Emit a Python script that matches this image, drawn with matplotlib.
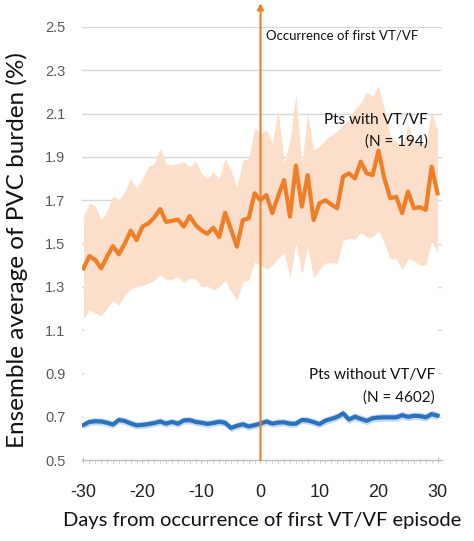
import matplotlib
matplotlib.use("Agg")
import matplotlib.pyplot as plt
from matplotlib.ticker import MultipleLocator

days = list(range(-30, 31))

vt_mean = [
    1.385, 1.442, 1.424, 1.385, 1.44, 1.488, 1.45, 1.50, 1.559, 1.516,
    1.578, 1.593, 1.62, 1.659, 1.60, 1.605, 1.61, 1.578, 1.627, 1.585,
    1.56, 1.545, 1.573, 1.53, 1.642, 1.565, 1.485, 1.608, 1.616, 1.732,
    1.70,
    1.724, 1.64, 1.72, 1.793, 1.624, 1.86, 1.67, 1.816, 1.608, 1.686,
    1.70, 1.68, 1.663, 1.809, 1.824, 1.80, 1.878, 1.824, 1.816, 1.929,
    1.80, 1.709, 1.716, 1.64, 1.74, 1.663, 1.668, 1.655, 1.855, 1.732]

vt_lower = [
    1.154, 1.193, 1.18, 1.165, 1.20, 1.235, 1.216, 1.26, 1.293, 1.30,
    1.305, 1.316, 1.33, 1.355, 1.335, 1.335, 1.347, 1.32, 1.34, 1.335,
    1.30, 1.304, 1.285, 1.30, 1.33, 1.28, 1.235, 1.324, 1.33, 1.416,
    1.40,
    1.38, 1.40, 1.43, 1.46, 1.34, 1.50, 1.36, 1.485, 1.34, 1.38,
    1.41, 1.41, 1.41, 1.515, 1.524, 1.52, 1.55, 1.53, 1.53, 1.56,
    1.50, 1.43, 1.43, 1.38, 1.43, 1.42, 1.40, 1.40, 1.51, 1.46]

vt_upper = [
    1.624, 1.686, 1.673, 1.61, 1.65, 1.72, 1.70, 1.74, 1.80, 1.755,
    1.80, 1.855, 1.87, 1.94, 1.87, 1.862, 1.87, 1.878, 1.855, 1.882,
    1.824, 1.80, 1.832, 1.80, 1.893, 1.84, 1.762, 1.886, 1.893, 2.032,
    2.009,
    2.024, 1.963, 2.12, 1.87, 1.98, 2.19, 1.87, 2.10, 1.93, 1.95,
    1.98, 2.00, 2.02, 2.05, 2.07, 2.12, 2.15, 2.20, 2.18, 2.23,
    2.12, 2.00, 1.97, 1.95, 2.05, 1.97, 1.96, 1.96, 2.11, 2.02]

novt_mean = [
    0.662, 0.676, 0.679, 0.678, 0.672, 0.664, 0.685, 0.680, 0.669, 0.660,
    0.662, 0.666, 0.671, 0.678, 0.668, 0.676, 0.668, 0.683, 0.684, 0.676,
    0.672, 0.667, 0.671, 0.677, 0.672, 0.648, 0.658, 0.665, 0.655, 0.661,
    0.668,
    0.678, 0.668, 0.673, 0.674, 0.668, 0.668, 0.685, 0.683, 0.675, 0.666,
    0.682, 0.690, 0.699, 0.715, 0.687, 0.700, 0.690, 0.681, 0.693, 0.696,
    0.697, 0.697, 0.697, 0.707, 0.699, 0.704, 0.703, 0.697, 0.712, 0.705]

novt_lower = [
    0.645, 0.659, 0.662, 0.661, 0.655, 0.647, 0.668, 0.663, 0.652, 0.643,
    0.645, 0.649, 0.654, 0.661, 0.651, 0.659, 0.651, 0.666, 0.667, 0.659,
    0.655, 0.650, 0.654, 0.660, 0.655, 0.631, 0.641, 0.648, 0.638, 0.644,
    0.651,
    0.661, 0.651, 0.656, 0.657, 0.651, 0.651, 0.668, 0.666, 0.658, 0.649,
    0.664, 0.672, 0.681, 0.696, 0.669, 0.682, 0.672, 0.663, 0.675, 0.678,
    0.679, 0.679, 0.679, 0.689, 0.681, 0.686, 0.685, 0.679, 0.694, 0.687]

novt_upper = [
    0.679, 0.693, 0.696, 0.695, 0.689, 0.681, 0.702, 0.697, 0.686, 0.677,
    0.679, 0.683, 0.688, 0.695, 0.685, 0.693, 0.685, 0.700, 0.701, 0.693,
    0.689, 0.684, 0.688, 0.694, 0.689, 0.665, 0.675, 0.682, 0.672, 0.678,
    0.685,
    0.695, 0.685, 0.690, 0.691, 0.685, 0.685, 0.702, 0.700, 0.692, 0.683,
    0.700, 0.708, 0.717, 0.734, 0.705, 0.718, 0.708, 0.699, 0.711, 0.714,
    0.715, 0.715, 0.715, 0.725, 0.717, 0.722, 0.721, 0.715, 0.730, 0.723]

y_ticks = [0.5, 0.7, 0.9, 1.1, 1.3, 1.5, 1.7, 1.9, 2.1, 2.3, 2.5]
x_ticks = [-30, -20, -10, 0, 10, 20, 30]

ORANGE = "#F07E26"
ORANGE_BAND = "#FCDFCB"
BLUE = "#2A72BE"
BLUE_BAND = "#C9D9EF"
GRID = "#D9D9D9"

plt.rcParams['font.family'] = ['Lato', 'DejaVu Sans']

fig = plt.figure(figsize=(4.74, 5.41), dpi=100)
ax = fig.add_axes([0.173, 0.1497, 0.7595, 0.8004])

ax.set_xlim(-30.25, 30.76)
ax.set_ylim(0.5, 2.5)
ax.set_yticks(y_ticks)
ax.set_yticklabels([f"{v:.1f}" for v in y_ticks], fontsize=10.5, color="#595959",
                   family=['Liberation Sans'])
ax.set_xticks(x_ticks)
ax.set_xticklabels([str(v) for v in x_ticks], fontsize=13, color="#222222",
                   family=['Liberation Sans'])
ax.xaxis.set_minor_locator(MultipleLocator(1))
ax.tick_params(axis='y', length=0, pad=12)
ax.tick_params(axis='x', which='major', direction='inout', length=5, color="#BFBFBF", pad=15)
ax.tick_params(axis='x', which='minor', direction='inout', length=5, color="#BFBFBF")

ax.grid(axis='y', color=GRID, linewidth=1.0, zorder=0)
ax.set_axisbelow(True)
for s in ['top', 'right', 'left']:
    ax.spines[s].set_visible(False)
ax.spines['bottom'].set_color("#BFBFBF")
ax.spines['bottom'].set_linewidth(1.0)

# white area below lower bound (hides gridlines, Excel stacked area style)
ax.fill_between(days, 0.5, vt_lower, color='white', linewidth=0, zorder=1)
ax.fill_between(days, vt_lower, vt_upper, color=ORANGE_BAND, linewidth=0, zorder=2)
ax.fill_between(days, novt_lower, novt_upper, color=BLUE_BAND, linewidth=0, zorder=3)
ax.plot(days, vt_mean, color=ORANGE, linewidth=3.0, zorder=4, solid_joinstyle='round')
ax.plot(days, novt_mean, color=BLUE, linewidth=3.0, zorder=4, solid_joinstyle='round')

# event arrow
ax.annotate("", xy=(0, 2.61), xytext=(0, 0.5), xycoords='data',
            arrowprops=dict(arrowstyle="-|>", color=ORANGE, lw=1.5,
                            mutation_scale=9, shrinkA=0, shrinkB=0),
            annotation_clip=False, zorder=5)

ax.text(1.0, 2.46, "Occurrence of first VT/VF", fontsize=9.5, color="#111111",
        ha='left', va='center', zorder=6)
ax.text(28.3, 2.07, "Pts with VT/VF", fontsize=11, color="#111111",
        ha='right', va='center', zorder=6)
ax.text(28.3, 1.97, "(N = 194)", fontsize=11, color="#111111",
        ha='right', va='center', zorder=6)
ax.text(29.6, 0.893, "Pts without VT/VF", fontsize=11, color="#111111",
        ha='right', va='center', zorder=6)
ax.text(29.6, 0.79, "(N = 4602)", fontsize=11, color="#111111",
        ha='right', va='center', zorder=6)

ax.set_xlabel("Days from occurrence of first VT/VF episode", fontsize=14.5,
              color="#111111", labelpad=8)
ax.set_ylabel("Ensemble average of PVC burden (%)", fontsize=17.5,
              color="#111111")
ax.yaxis.set_label_coords(-0.15, 0.485)

fig.savefig("out.png", dpi=100)
